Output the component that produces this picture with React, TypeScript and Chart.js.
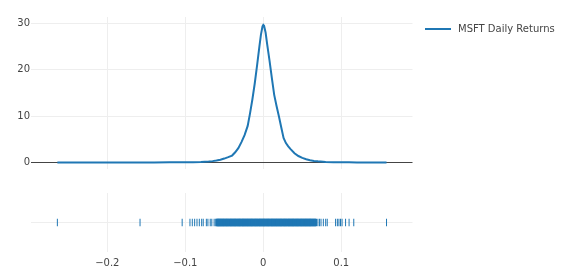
import React, { useEffect, useRef } from "react";
import { Chart, registerables } from "chart.js";

Chart.register(...registerables);

const seriesName = "MSFT Daily Returns";

const curveX = [
  -0.264, -0.25, -0.22, -0.2, -0.18, -0.16, -0.14, -0.12, -0.1, -0.09, -0.08, -0.07,
  -0.065, -0.06, -0.055, -0.05, -0.045, -0.04, -0.036, -0.032, -0.028, -0.024, -0.02,
  -0.017, -0.014, -0.011, -0.008, -0.005, -0.003, -0.001, 0.0, 0.001, 0.003, 0.005,
  0.008, 0.011, 0.014, 0.017, 0.02, 0.023, 0.026, 0.029, 0.032, 0.035, 0.04, 0.045,
  0.05, 0.055, 0.06, 0.065, 0.07, 0.08, 0.09, 0.1, 0.11, 0.12, 0.14, 0.158,
];
const curveY = [
  0.01, 0.01, 0.01, 0.01, 0.02, 0.02, 0.02, 0.03, 0.05, 0.08, 0.13, 0.22,
  0.3, 0.42, 0.6, 0.85, 1.15, 1.5, 2.2, 3.1, 4.4, 5.9, 7.9,
  10.6, 13.6, 17.0, 20.9, 25.0, 27.6, 29.4, 29.7, 29.5, 28.0, 25.5,
  22.0, 18.2, 14.6, 12.2, 10.0, 7.6, 5.3, 4.2, 3.5, 2.9, 2.0, 1.4,
  1.0, 0.7, 0.5, 0.35, 0.25, 0.13, 0.07, 0.05, 0.03, 0.02, 0.01, 0.01,
];

// isolated rug ticks (tails)
const rugSparseX = [
  -0.264, -0.158, -0.104, -0.094, -0.091, -0.088, -0.085, -0.082, -0.079, -0.077,
  -0.073, -0.071, -0.068, -0.066, -0.063, -0.061,
  0.07, 0.072, 0.074, 0.077, 0.08, 0.082, 0.0927, 0.095, 0.097, 0.099, 0.101,
  0.1055, 0.11, 0.116, 0.158,
];
// dense rug ticks (centre band)
const rugDenseX = [
  -0.0596, -0.0588, -0.0577, -0.0569, -0.0558, -0.0547, -0.0539, -0.0528, -0.0516,
  -0.0507, -0.0498, -0.0486, -0.0477, -0.0466, -0.0455, -0.0446, -0.0435, -0.0424,
  -0.0415, -0.0404, -0.0393, -0.0384, -0.0373, -0.0362, -0.0353, -0.0342, -0.0331,
  -0.0322, -0.0311, -0.03, -0.0291, -0.028, -0.0269, -0.026, -0.0249, -0.0238,
  -0.0229, -0.0218, -0.0207, -0.0198, -0.0187, -0.0176, -0.0167, -0.0156, -0.0145,
  -0.0136, -0.0125, -0.0114, -0.0105, -0.0094, -0.0083, -0.0074, -0.0063, -0.0052,
  -0.0043, -0.0032, -0.0021, -0.0012, -0.0001, 0.001, 0.0019, 0.003, 0.0041, 0.005,
  0.0061, 0.0072, 0.0081, 0.0092, 0.0103, 0.0112, 0.0123, 0.0134, 0.0143, 0.0154,
  0.0165, 0.0174, 0.0185, 0.0196, 0.0205, 0.0216, 0.0227, 0.0236, 0.0247, 0.0258,
  0.0267, 0.0278, 0.0289, 0.0298, 0.0309, 0.032, 0.0329, 0.034, 0.0351, 0.036,
  0.0371, 0.0382, 0.0391, 0.0402, 0.0413, 0.0422, 0.0433, 0.0444, 0.0453, 0.0464,
  0.0475, 0.0484, 0.0495, 0.0506, 0.0515, 0.0526, 0.0537, 0.0546, 0.0557, 0.0568,
  0.0577, 0.0588, 0.0599, 0.0608, 0.0619, 0.063, 0.0641, 0.0652, 0.0663, 0.0676,
];

const xTicks = [-0.2, -0.1, 0, 0.1];
const yTicks = [0, 10, 20, 30];

const X_MIN = -0.2978;
const X_MAX = 0.1913;
const BLUE = "rgb(31,119,180)";
const TEXT = "#444";
const GRID = "#eee";
const FONT = '"DejaVu Sans", Verdana, sans-serif';
const FONT_SIZE = 10;

function fmt(v: number): string {
  if (Math.abs(v) < 1e-9) return "0";
  const s = (Math.round(v * 10) / 10).toString();
  return s.replace("-", "\u2212");
}

const sideLegend = {
  id: "sideLegend",
  afterDraw(chart: any) {
    const ds = chart.data.datasets[0];
    const area = chart.chartArea;
    const ctx = chart.ctx;
    const x0 = area.right + 12.5;
    const y0 = area.top + 12;
    ctx.save();
    ctx.strokeStyle = ds.borderColor;
    ctx.lineWidth = ds.borderWidth;
    ctx.beginPath();
    ctx.moveTo(x0, y0);
    ctx.lineTo(x0 + 26, y0);
    ctx.stroke();
    ctx.fillStyle = TEXT;
    ctx.font = `${FONT_SIZE}px ${FONT}`;
    ctx.textBaseline = "middle";
    ctx.textAlign = "left";
    ctx.fillText(ds.label, x0 + 33, y0);
    ctx.restore();
  },
};

const rugPoint = {
  pointStyle: "line",
  pointRotation: 90,
  pointRadius: 3.75,
  pointBorderColor: BLUE,
  pointBackgroundColor: BLUE,
  borderColor: BLUE,
};

export default function App() {
  const topRef = useRef<HTMLCanvasElement | null>(null);
  const botRef = useRef<HTMLCanvasElement | null>(null);

  useEffect(() => {
    if (!topRef.current || !botRef.current) return;
    Chart.defaults.font.family = FONT;
    Chart.defaults.font.size = FONT_SIZE;
    Chart.defaults.color = TEXT;

    const top = new Chart(topRef.current, {
      type: "line",
      data: {
        datasets: [
          {
            label: seriesName,
            data: curveX.map((x, i) => ({ x, y: curveY[i] })),
            borderColor: BLUE,
            backgroundColor: BLUE,
            borderWidth: 2,
            pointRadius: 0,
            fill: false,
            tension: 0,
          },
        ],
      },
      options: {
        animation: false,
        responsive: false,
        layout: { padding: { top: 17, bottom: 16, left: 0, right: 153.5 } },
        plugins: {
          legend: { display: false },
          tooltip: { enabled: false },
        },
        scales: {
          x: {
            type: "linear",
            min: X_MIN,
            max: X_MAX,
            afterBuildTicks: (s: any) => {
              s.ticks = xTicks.map((v) => ({ value: v }));
            },
            ticks: { display: false },
            grid: { color: GRID, drawTicks: false },
            border: { display: false },
            afterFit: (s: any) => {
              s.height = 0;
            },
          },
          y: {
            type: "linear",
            position: "left",
            min: -1.4,
            max: 31.4,
            afterBuildTicks: (s: any) => {
              s.ticks = yTicks.map((v) => ({ value: v }));
            },
            ticks: { padding: 1, color: TEXT, font: { family: FONT, size: FONT_SIZE } },
            grid: {
              color: (c: any) => (c.tick && c.tick.value === 0 ? TEXT : GRID),
              drawTicks: false,
            },
            border: { display: false },
            afterFit: (s: any) => {
              s.width = 31;
            },
          },
        },
      } as any,
      plugins: [sideLegend],
    });

    const bot = new Chart(botRef.current, {
      type: "scatter",
      data: {
        datasets: [
          {
            label: seriesName,
            data: rugSparseX.map((x) => ({ x, y: 1 })),
            pointBorderWidth: 1,
            ...rugPoint,
          } as any,
          {
            label: seriesName,
            data: rugDenseX.map((x) => ({ x, y: 1 })),
            pointBorderWidth: 2,
            ...rugPoint,
          } as any,
        ],
      },
      options: {
        animation: false,
        responsive: false,
        layout: { padding: { top: 18, bottom: 0, left: 0, right: 153.5 } },
        plugins: { legend: { display: false }, tooltip: { enabled: false } },
        scales: {
          x: {
            type: "linear",
            min: X_MIN,
            max: X_MAX,
            afterBuildTicks: (s: any) => {
              s.ticks = xTicks.map((v) => ({ value: v }));
            },
            ticks: {
              padding: 5,
              color: TEXT,
              font: { family: FONT, size: FONT_SIZE },
              maxRotation: 0,
              autoSkip: false,
              callback: (v: any) => fmt(Number(v)),
            },
            grid: { color: GRID, drawTicks: false },
            border: { display: false },
            afterFit: (s: any) => {
              s.height = 25;
            },
          },
          y: {
            type: "linear",
            min: 0,
            max: 2,
            afterBuildTicks: (s: any) => {
              s.ticks = [{ value: 1 }];
            },
            ticks: { display: false },
            grid: { color: GRID, drawTicks: false },
            border: { display: false },
            afterFit: (s: any) => {
              s.width = 31;
            },
          },
        },
      } as any,
    });

    return () => {
      top.destroy();
      bot.destroy();
    };
  }, []);

  return (
    <div style={{ position: "absolute", left: 0, top: 0, width: 566, height: 277, background: "#fff" }}>
      <canvas
        ref={topRef}
        width={566}
        height={185}
        style={{ position: "absolute", left: 0, top: 0, width: 566, height: 185, display: "block" }}
      />
      <canvas
        ref={botRef}
        width={566}
        height={102}
        style={{ position: "absolute", left: 0, top: 175, width: 566, height: 102, display: "block" }}
      />
    </div>
  );
}
